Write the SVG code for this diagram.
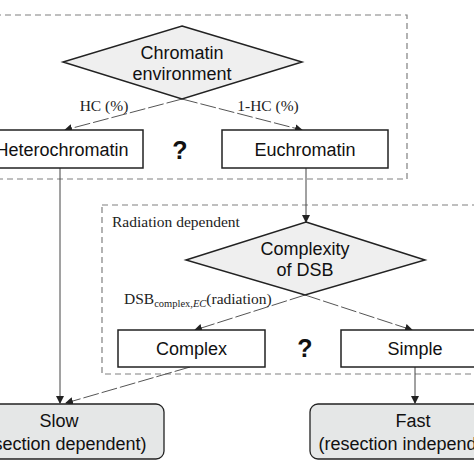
<svg xmlns="http://www.w3.org/2000/svg" width="474" height="474" viewBox="0 0 474 474">
<style>
.frame{fill:none;stroke:#808080;stroke-width:1.2;stroke-dasharray:6 4}
.dia{fill:#efefef;stroke:#222;stroke-width:1.5}
.box{fill:#fff;stroke:#222;stroke-width:1.5}
.term{fill:#e5e7e7;stroke:#222;stroke-width:1.3}
.t{font-family:"Liberation Sans",Arial,sans-serif;font-size:18px;fill:#111;text-anchor:middle}
.s{font-family:"Liberation Serif","Times New Roman",serif;font-size:15.5px;fill:#222}
.q{font-family:"Liberation Sans",Arial,sans-serif;font-size:25px;font-weight:bold;fill:#111;text-anchor:middle}
.ln{fill:none;stroke:#444;stroke-width:1}
.dl{fill:none;stroke:#555;stroke-width:1;stroke-dasharray:16 3}
</style>
<defs>
<marker id="ah" markerWidth="8" markerHeight="8" refX="7" refY="4" orient="auto" markerUnits="userSpaceOnUse">
<path d="M0,0 L8,4 L0,8 Z" fill="#222"/>
</marker>
</defs>
<rect width="474" height="474" fill="#fff"/>
<rect class="frame" x="-5" y="15" width="412" height="164"/>
<rect class="frame" x="102" y="205" width="380" height="169"/>
<g id="connectors">
<line class="dl" x1="182" y1="99" x2="65" y2="130" marker-end="url(#ah)"/>
<line class="dl" x1="182" y1="99" x2="302" y2="130" marker-end="url(#ah)"/>
<line class="ln" x1="306" y1="168" x2="306" y2="222" marker-end="url(#ah)"/>
<line class="dl" x1="305" y1="295" x2="195" y2="330" marker-end="url(#ah)"/>
<line class="dl" x1="305" y1="295" x2="412" y2="330" marker-end="url(#ah)"/>
<line class="ln" x1="60" y1="168" x2="60" y2="403" marker-end="url(#ah)"/>
<line class="dl" x1="190" y1="367" x2="66" y2="403" marker-end="url(#ah)"/>
<line class="ln" x1="415" y1="367" x2="415" y2="403" marker-end="url(#ah)"/>
<text class="s" x="104" y="111" text-anchor="middle">HC (%)</text>
<text class="s" x="268" y="111" text-anchor="middle">1-HC (%)</text>
<text class="s" x="124" y="304">DSB<tspan font-size="10.5" dy="3">complex,<tspan font-style="italic">EC</tspan></tspan><tspan dy="-3">(radiation)</tspan></text>
</g>
<text class="s" x="112" y="227">Radiation dependent</text>
<g id="chromatin">
<polygon class="dia" points="182,26 302,62 182,99 63,62"/>
<text class="t" x="182" y="59">Chromatin</text>
<text class="t" x="182" y="80">environment</text>
</g>
<g id="heterochromatin">
<rect class="box" x="-23" y="130" width="166" height="38"/>
<text class="t" x="62" y="156">Heterochromatin</text>
</g>
<g id="euchromatin">
<rect class="box" x="222" y="130" width="166" height="38"/>
<text class="t" x="305" y="156">Euchromatin</text>
</g>
<text class="q" x="180" y="159">?</text>
<g id="complexity">
<polygon class="dia" points="306,222 425,260 305,295 186,260"/>
<text class="t" x="305" y="255">Complexity</text>
<text class="t" x="305" y="276">of DSB</text>
</g>
<g id="complex">
<rect class="box" x="118" y="330" width="147" height="37"/>
<text class="t" x="191.5" y="355">Complex</text>
</g>
<g id="simple">
<rect class="box" x="341" y="330" width="150" height="37"/>
<text class="t" x="415" y="355">Simple</text>
</g>
<text class="q" x="305" y="357">?</text>
<g id="slow">
<rect class="term" x="-46" y="404" width="210" height="55" rx="8"/>
<text class="t" x="59" y="427">Slow</text>
<text class="t" x="59" y="450">(resection dependent)</text>
</g>
<g id="fast">
<rect class="term" x="310" y="404" width="210" height="55" rx="8"/>
<text class="t" x="413" y="427">Fast</text>
<text class="t" x="413" y="450">(resection independent)</text>
</g>
</svg>
